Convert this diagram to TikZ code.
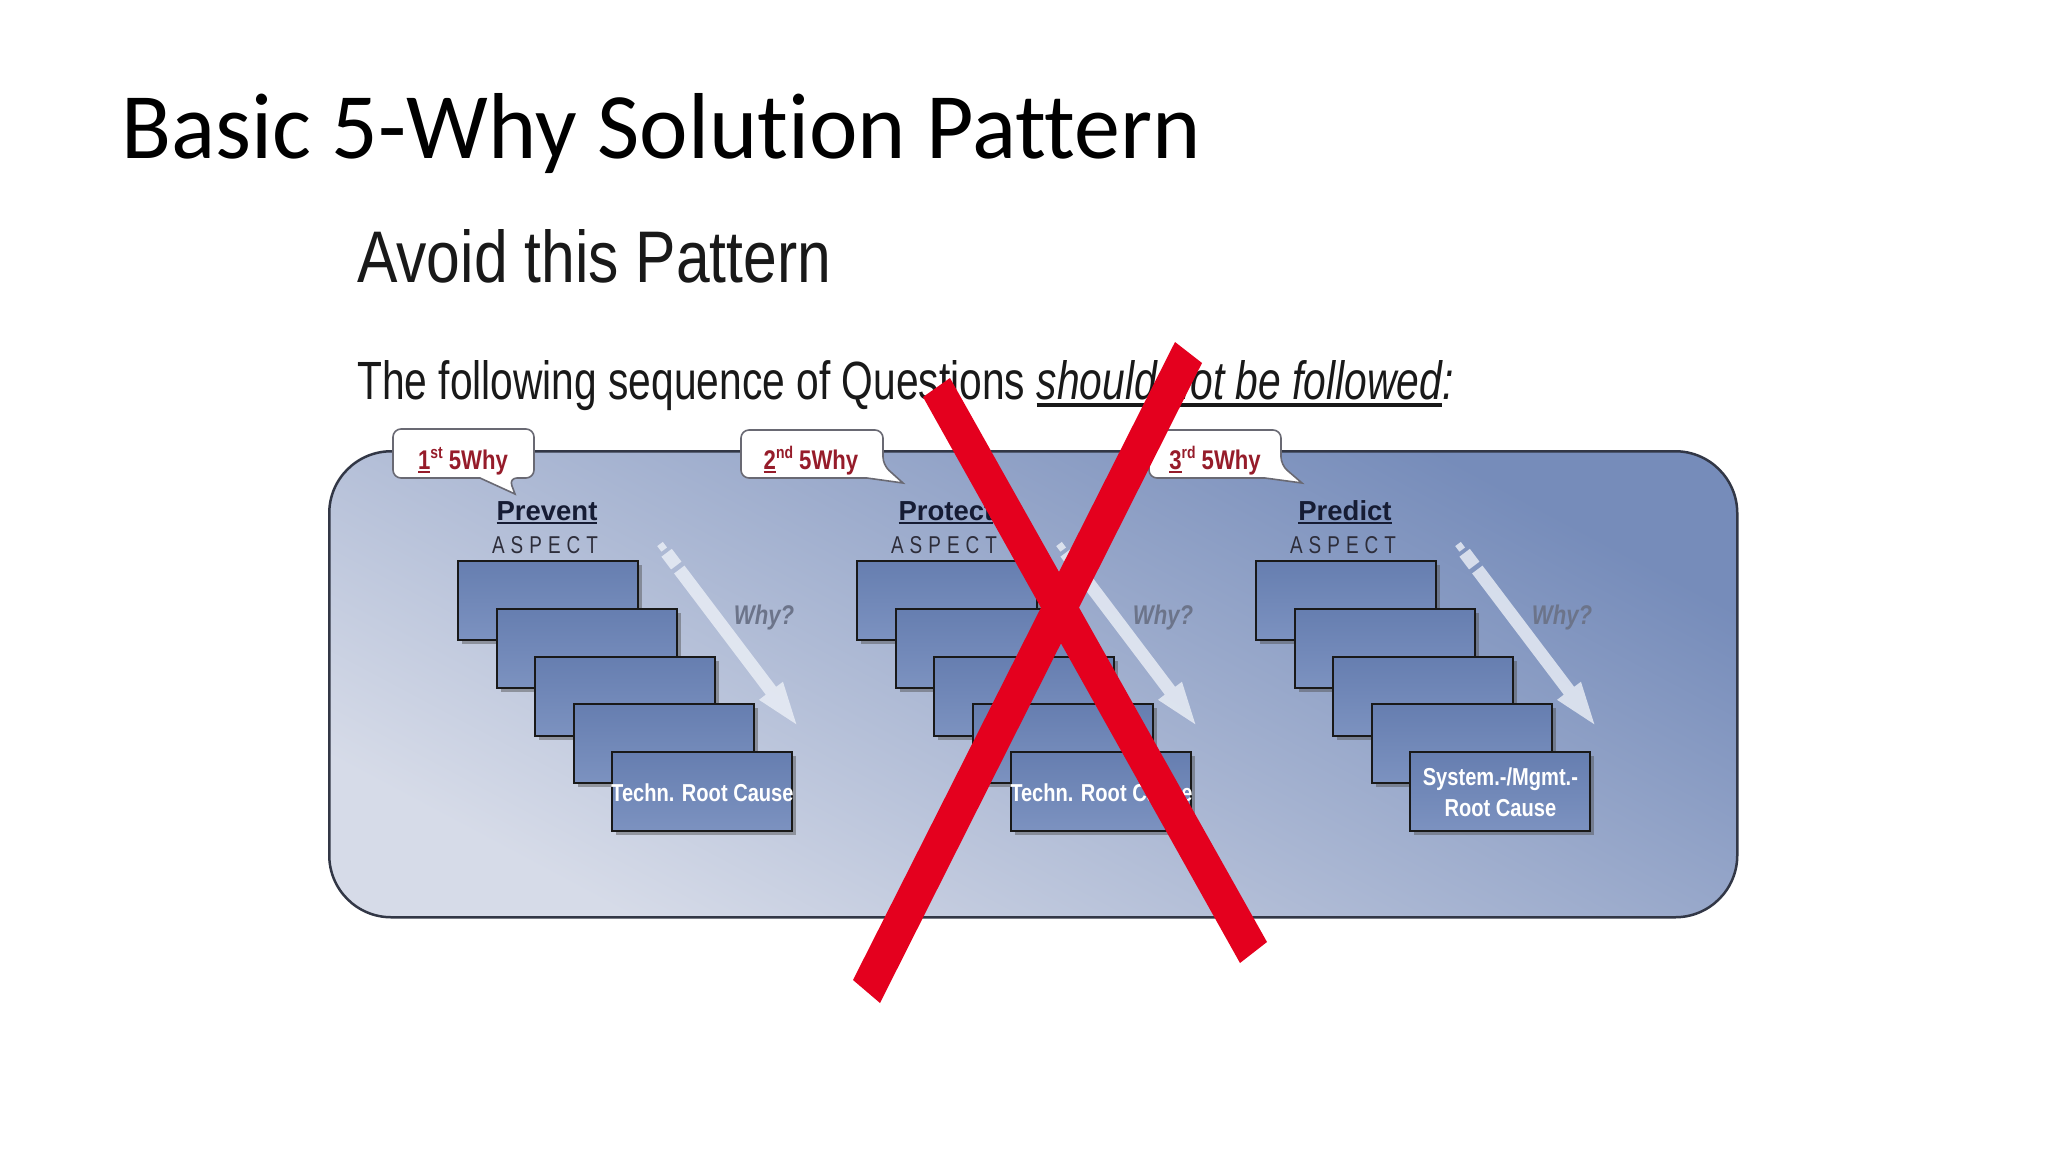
\documentclass[tikz,border=0pt]{standalone}
\usepackage{fontspec}
\usepackage{graphicx}
\setmainfont{Liberation Sans}
\newfontfamily\titlefont[Ligatures={NoCommon}]{Carlito}
\newfontfamily\arialfont{Liberation Sans}
\newfontfamily\narrowfont[FakeStretch=0.82]{Liberation Sans}
\usetikzlibrary{shadows}

\definecolor{boxtop}{RGB}{102,126,176}
\definecolor{boxbot}{RGB}{124,146,192}
\definecolor{panelA}{RGB}{118,140,186}
\definecolor{panelB}{RGB}{214,219,232}
\definecolor{panelline}{RGB}{50,55,70}
\definecolor{calred}{RGB}{150,28,42}
\definecolor{calline}{RGB}{105,105,115}
\definecolor{xred}{RGB}{228,0,30}
\definecolor{whygray}{RGB}{108,116,138}
\definecolor{headcol}{RGB}{22,28,52}
\definecolor{aspcol}{RGB}{45,45,58}
\definecolor{arrowcol}{RGB}{236,240,247}
\definecolor{txtcol}{RGB}{25,25,25}

\newcommand{\myul}[1]{\setbox0=\hbox{#1}\rlap{\rule[-0.14em]{\wd0}{0.075em}}\box0}
\newcommand{\spacedaspect}{A\hspace{0.32em}S\hspace{0.32em}P\hspace{0.32em}E\hspace{0.32em}C\hspace{0.32em}T}

\begin{document}
\begin{tikzpicture}[x=1pt,y=-1pt,
  whybox/.style={draw=black!90, line width=2pt, top color=boxtop, bottom color=boxbot,
    minimum width=180pt, minimum height=79pt, inner sep=0pt, anchor=north west,
    drop shadow={shadow xshift=4pt, shadow yshift=-4pt, opacity=0.45, fill=black!70}},
  callout/.style={fill=white, draw=calline, line width=1.6pt},
  calltext/.style={anchor=base, inner sep=0pt, text=calred,
    font=\narrowfont\bfseries\fontsize{27}{30}\selectfont},
  headtext/.style={anchor=base, inner sep=0pt, text=headcol,
    font=\arialfont\bfseries\fontsize{27.5}{30}\selectfont},
  asptext/.style={anchor=base, inner sep=0pt, text=aspcol, font=\arialfont},
  whytext/.style={inner sep=0pt, text=whygray,
    font=\narrowfont\bfseries\itshape\fontsize{27}{30}\selectfont},
  rctext/.style={inner sep=0pt, text=white, align=center,
    font=\narrowfont\bfseries\fontsize{24.5}{31}\selectfont},
  arrowpiece/.style={fill=arrowcol, opacity=0.8},
  xbar/.style={fill=xred}
]
\useasboundingbox (0,0) rectangle (2048,1152);
\fill[white] (0,0) rectangle (2048,1152);

% titles
\node[anchor=base west, inner sep=0pt] (title) at (121,158)
  {\resizebox{1079pt}{65pt}{\titlefont Basic 5-Why Solution Pattern}};
\node[anchor=base west, inner sep=0pt, text=txtcol] (avoid) at (357,282)
  {\resizebox{474pt}{53pt}{\arialfont Avoid this Pattern}};
\node[anchor=base west, inner sep=0pt, text=txtcol] (sentence) at (357,399.5)
  {\resizebox{1096pt}{39pt}{\arialfont The following sequence of Questions {\itshape\myul{should not be followed}:}}};

% panel
\node[draw=panelline, line width=2.5pt, rounded corners=62pt, minimum width=1408pt,
  minimum height=466pt, anchor=north west, inner sep=0pt,
  top color=panelA, bottom color=panelB, shading angle=-28] (panel) at (328,450) {};

% callouts
\filldraw[callout] (463,478) [rounded corners=8pt] -- (393,478) -- (393,429) -- (534,429)
  -- (534,478) -- (509,478) [sharp corners] -- (515,494) -- (480,478) -- cycle;
\filldraw[callout] (812,430) [rounded corners=8pt] -- (883,430) -- (883,465) [sharp corners]
  -- (903,483) -- (867,478) [rounded corners=8pt] -- (741,478) -- (741,430) -- cycle;
\filldraw[callout] (1215,430) [rounded corners=8pt] -- (1281,430) -- (1281,465) [sharp corners]
  -- (1302,483) -- (1265,478) [rounded corners=8pt] -- (1149,478) -- (1149,430) -- cycle;
\node[calltext] (call-1) at (463,469) {\myul{1}\raisebox{0.4em}{\fontsize{17}{17}\selectfont st} 5Why};
\node[calltext] (call-2) at (811,469) {\myul{2}\raisebox{0.4em}{\fontsize{17}{17}\selectfont nd} 5Why};
\node[calltext] (call-3) at (1215,469) {\myul{3}\raisebox{0.4em}{\fontsize{17}{17}\selectfont rd} 5Why};

% three aspects
\foreach \p/\name in {0/Prevent,1/Protect,2/Predict} {
  \node[headtext] (head-\p) at ({547+399*\p},520) {\myul{\name}};
  \node[asptext] (aspect-\p) at ({545+399*\p},553) {\resizebox{106pt}{17pt}{\spacedaspect}};
  \foreach \i in {0,...,4} {
    \node[whybox] (box-\p-\i) at ({457+399*\p+38.6*\i},{560+47.8*\i}) {};
  }
  \begin{scope}[shift={({660+399*\p},544)}, rotate=-52.9]
    \fill[arrowpiece] (0,-3.5) -- (7,-3.5) -- (7,3.5) -- (0,3.5) -- cycle;
    \fill[arrowpiece] (11,-6.5) -- (27,-6.5) -- (27,6.5) -- (11,6.5) -- cycle;
    \fill[arrowpiece] (32,-6.5) -- (184,-6.5) -- (184,-15) -- (226,0) -- (184,15)
      -- (184,6.5) -- (32,6.5) -- cycle;
  \end{scope}
  \node[whytext] (why-\p) at ({764+399*\p},618) {Why?};
}
\node[rctext, yshift=-1.5pt] (rc-0) at (box-0-4.center) {Techn. Root Cause};
\node[rctext, yshift=-1.5pt] (rc-1) at (box-1-4.center) {Techn. Root Cause};
\node[rctext, yshift=-1pt] (rc-2) at (box-2-4.center) {System.-/Mgmt.-\\Root Cause};

% red cross
\fill[xbar] (1175,342) -- (1202,363) -- (880,1003) -- (853,980) -- cycle;
\fill[xbar] (923,397) -- (950,378) -- (1267,942) -- (1240,963) -- cycle;
\end{tikzpicture}
\end{document}
